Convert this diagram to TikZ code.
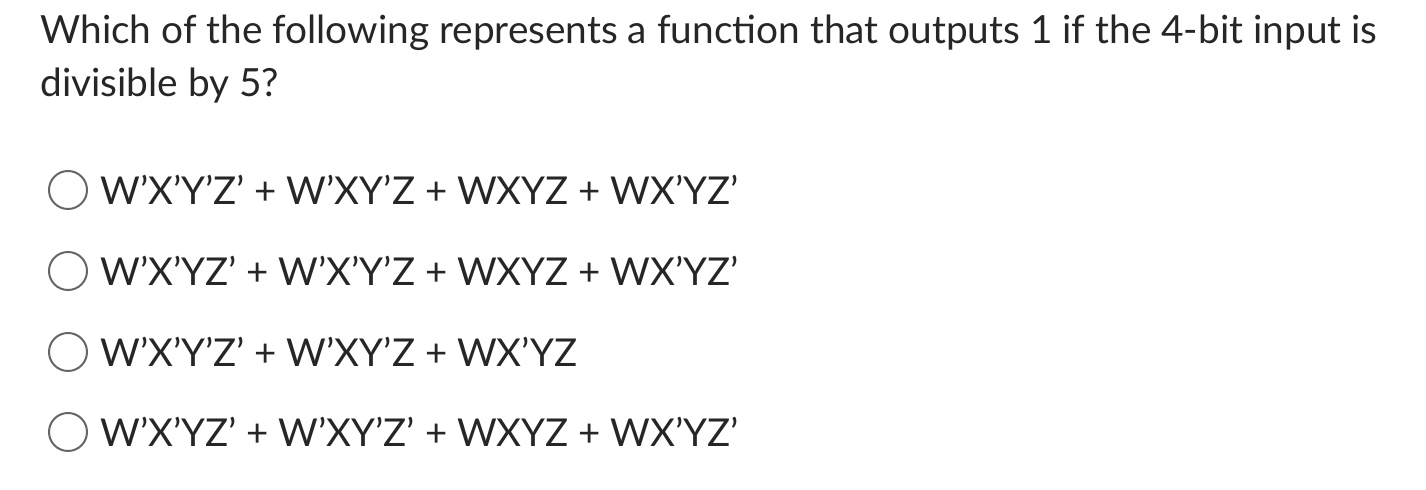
\documentclass[tikz,border=0pt]{standalone}
\usepackage{fontspec}
\setmainfont{Lato}[Ligatures=ResetAll]
\usetikzlibrary{positioning}
\tikzstyle{question} = [anchor=base west, inner sep=0pt, font=\fontsize{19.4}{22}\selectfont, text=black!85]
\tikzstyle{answer} = [anchor=west, inner sep=0pt, font=\fontsize{19.2}{22}\selectfont, text=black!85]
\tikzstyle{radio} = [circle, draw=black!60, line width=1pt, minimum size=19pt, inner sep=0pt, fill=white]

\begin{document}
\begin{tikzpicture}[x=0.5pt, y=-0.5pt]
    \useasboundingbox (0,0) rectangle (1426,490);
    % question text
    \node (q1) [question] at (40,44) {Which of the following represents a function that outputs 1 if the 4-bit input is};
    \node (q2) [question] at (40,97) {divisible by 5?};

    % answer options
    \node (r1) [radio] at (68,190) {};
    \node (a1) [answer, right = 6pt of r1] {W'X'Y'Z' + W'XY'Z + WXYZ + WX'YZ'};
    \node (r2) [radio] at (68,271) {};
    \node (a2) [answer, right = 6pt of r2] {W'X'YZ' + W'X'Y'Z + WXYZ + WX'YZ'};
    \node (r3) [radio] at (68,352) {};
    \node (a3) [answer, right = 6pt of r3] {W'X'Y'Z' + W'XY'Z + WX'YZ};
    \node (r4) [radio] at (68,432) {};
    \node (a4) [answer, right = 6pt of r4] {W'X'YZ' + W'XY'Z' + WXYZ + WX'YZ'};
\end{tikzpicture}
\end{document}
